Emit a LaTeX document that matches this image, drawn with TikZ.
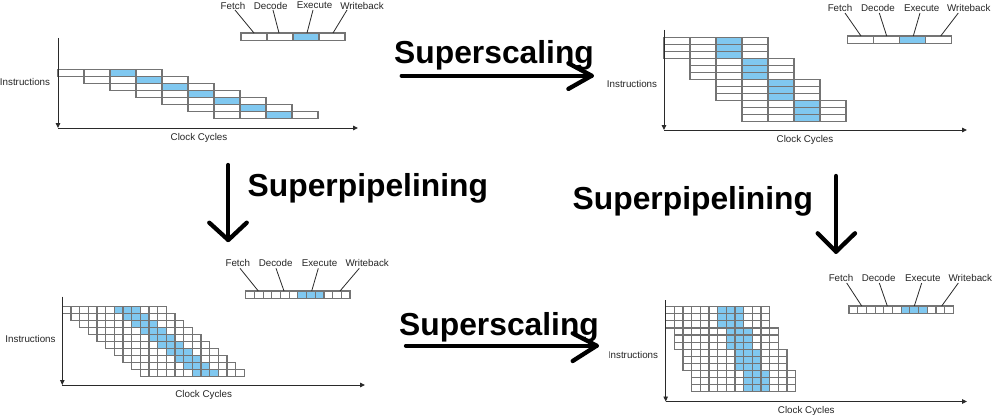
\documentclass[tikz,border=0pt]{standalone}
\usepackage{fontspec}
\setmainfont{Liberation Sans}
\usetikzlibrary{arrows.meta}
\definecolor{gridc}{HTML}{747474}
\definecolor{cellblue}{HTML}{80C8F0}
\definecolor{axisc}{HTML}{2A2A2A}
\begin{document}
\begin{tikzpicture}[x=1pt,y=-1pt,
  cellline/.style={draw=gridc,line width=1.15pt},
  axis/.style={draw=axisc,line width=0.9pt,-{Triangle[length=5pt,width=4.5pt]}},
  small/.style={font=\fontsize{9.8}{11}\selectfont,text=black!85,inner sep=0pt},
  lead/.style={draw=axisc,line width=0.8pt},
  big/.style={font=\fontsize{31.8}{36}\selectfont\bfseries,inner sep=0pt,anchor=base west},
  bigline/.style={line width=4.3pt,line cap=round,line join=round}]
\useasboundingbox[fill=white] (0,0) rectangle (996,420);

% ================= TOP LEFT =================
\foreach \i in {0,...,6} {\fill[cellblue] ({58+(\i+2)*26},{69.3+\i*7}) rectangle ++(26,7);}
\foreach \i in {0,...,6} {\foreach \j in {0,...,3} {\draw[cellline] ({58+(\i+\j)*26},{69.3+\i*7}) rectangle ++(26,7);}}
\fill[cellblue] (293,33) rectangle ++(26,7.3);
\foreach \j in {0,...,3} {\draw[cellline] ({241+\j*26},33) rectangle ++(26,7.3);}
\node[small] (tlF) at (233,5.5) {Fetch};
\node[small] (tlD) at (270.7,5.5) {Decode};
\node[small] (tlE) at (314.5,5.5) {Execute};
\node[small] (tlW) at (362,5.5) {Writeback};
\draw[lead] (235,10) -- (254,33);
\draw[lead] (273,10) -- (279,33);
\draw[lead] (313,10) -- (307,33);
\draw[lead] (347,10) -- (333,33);
\coordinate (tlvt) at (58,38);
\coordinate (tlo) at (58,128);
\coordinate (tlhx) at (358,128);
\draw[axis] (tlvt) -- (tlo);
\draw[axis] (tlo) -- (tlhx);
\node[small] (tlI) at (25,81.7) {Instructions};
\node[small] (tlC) at (199,137.5) {Clock Cycles};

% ================= TOP RIGHT =================
\foreach \g in {0,...,3} {\foreach \k in {0,...,2} {\fill[cellblue] ({664+(\g+2)*26},{37.7+(3*\g+\k)*7}) rectangle ++(26,7);}}
\foreach \g in {0,...,3} {\foreach \k in {0,...,2} {\foreach \j in {0,...,3} {\draw[cellline] ({664+(\g+\j)*26},{37.7+(3*\g+\k)*7}) rectangle ++(26,7);}}}
\fill[cellblue] ({847.7+2*26},36) rectangle ++(26,7.3);
\foreach \j in {0,...,3} {\draw[cellline] ({847.7+\j*26},36) rectangle ++(26,7.3);}
\node[small] (trF) at (840,8.2) {Fetch};
\node[small] (trD) at (878,8.2) {Decode};
\node[small] (trE) at (921.7,8.2) {Execute};
\node[small] (trW) at (968.7,8.2) {Writeback};
\draw[lead] (845,13) -- (861,36);
\draw[lead] (879.3,13) -- (886.7,36);
\draw[lead] (920,13) -- (913.3,36);
\draw[lead] (958.3,13) -- (940.7,36);
\coordinate (trvt) at (664,30);
\coordinate (tro) at (664,130);
\coordinate (trhx) at (967,130);
\draw[axis] (trvt) -- (tro);
\draw[axis] (tro) -- (trhx);
\node[small] (trI) at (632,84.3) {Instructions};
\node[small] (trC) at (805,140) {Clock Cycles};

% ================= BOTTOM LEFT =================
\foreach \i in {0,...,9} {\foreach \j in {6,7,8} {\fill[cellblue] ({62.3+(\i+\j)*8.6667},{306.7+\i*7}) rectangle ++(8.6667,7);}}
\foreach \i in {0,...,9} {\foreach \j in {0,...,11} {\draw[cellline] ({62.3+(\i+\j)*8.6667},{306.7+\i*7}) rectangle ++(8.6667,7);}}
\foreach \j in {6,7,8} {\fill[cellblue] ({245.7+\j*8.6917},291) rectangle ++(8.6917,7.3);}
\foreach \j in {0,...,11} {\draw[cellline] ({245.7+\j*8.6917},291) rectangle ++(8.6917,7.3);}
\node[small] (blF) at (237.8,263.3) {Fetch};
\node[small] (blD) at (275.7,263.3) {Decode};
\node[small] (blE) at (319.5,263.3) {Execute};
\node[small] (blW) at (367.2,263.3) {Writeback};
\draw[lead] (240,268.3) -- (258.3,291);
\draw[lead] (276,268.3) -- (284,291);
\draw[lead] (318.3,268.3) -- (311.7,291);
\draw[lead] (359.3,268.3) -- (340,291);
\coordinate (blvt) at (62.3,296.7);
\coordinate (blo) at (62.3,385);
\coordinate (blhx) at (365,385);
\draw[axis] (blvt) -- (blo);
\draw[axis] (blo) -- (blhx);
\node[small] (blI) at (30.5,339.3) {Instructions};
\node[small] (blC) at (203.7,395) {Clock Cycles};

% ================= BOTTOM RIGHT =================
\foreach \g in {0,...,3} {\foreach \k in {0,...,2} {\foreach \j in {6,7,8} {\fill[cellblue] ({665.7+(\g+\j)*8.6667},{306.7+(3*\g+\k)*7.08}) rectangle ++(8.6667,7.08);}}}
\foreach \g in {0,...,3} {\foreach \k in {0,...,2} {\foreach \j in {0,...,11} {\draw[cellline] ({665.7+(\g+\j)*8.6667},{306.7+(3*\g+\k)*7.08}) rectangle ++(8.6667,7.08);}}}
\foreach \j in {6,7,8} {\fill[cellblue] ({849+\j*8.6917},306) rectangle ++(8.6917,7.3);}
\foreach \j in {0,...,11} {\draw[cellline] ({849+\j*8.6917},306) rectangle ++(8.6917,7.3);}
\node[small] (brF) at (841,278.3) {Fetch};
\node[small] (brD) at (878.7,278.3) {Decode};
\node[small] (brE) at (922.8,278.3) {Execute};
\node[small] (brW) at (970.3,278.3) {Writeback};
\draw[lead] (846.7,283) -- (861.7,306);
\draw[lead] (879.3,283) -- (887.3,306);
\draw[lead] (921.7,283) -- (914.3,306);
\draw[lead] (958.3,283) -- (941.7,306);
\coordinate (brvt) at (665.7,300);
\coordinate (bro) at (665.7,401.5);
\coordinate (brhx) at (967,401.5);
\draw[axis] (brvt) -- (bro);
\draw[axis] (bro) -- (brhx);
\begin{scope}
  \clip (609.8,340) rectangle (662,370);
  \node[small] (brI) at (633,355) {Instructions};
\end{scope}
\node[small] (brC) at (806.3,410.5) {Clock Cycles};

% ================= BIG ARROWS AND LABELS =================
\node[big] (ss1) at (394,63.3) {Superscaling};
\node[big] (sp1) at (247.5,196) {Superpipelining};
\node[big] (sp2) at (572.5,209.3) {Superpipelining};
\node[big] (ss2) at (399,335) {Superscaling};

\coordinate (a1s) at (401.7,75.7);
\coordinate (a1e) at (591.7,75.7);
\draw[bigline] (a1s) -- (a1e);
\draw[bigline] (a1e) ++(-23.3,-12.4) -- (a1e) -- ++(-23.3,13.2);

\coordinate (a2s) at (228.3,165);
\coordinate (a2e) at (228.3,240);
\draw[bigline] (a2s) -- (a2e);
\draw[bigline] (a2e) ++(-19,-17.3) -- (a2e) -- ++(18.4,-17.3);

\coordinate (a3s) at (836,176);
\coordinate (a3e) at (836,251.7);
\draw[bigline] (a3s) -- (a3e);
\draw[bigline] (a3e) ++(-18.3,-18.4) -- (a3e) -- ++(19,-18.4);

\coordinate (a4s) at (406,345.7);
\coordinate (a4e) at (596.7,345.7);
\draw[bigline] (a4s) -- (a4e);
\draw[bigline] (a4e) ++(-24,-12.4) -- (a4e) -- ++(-24,15.3);
\end{tikzpicture}
\end{document}
